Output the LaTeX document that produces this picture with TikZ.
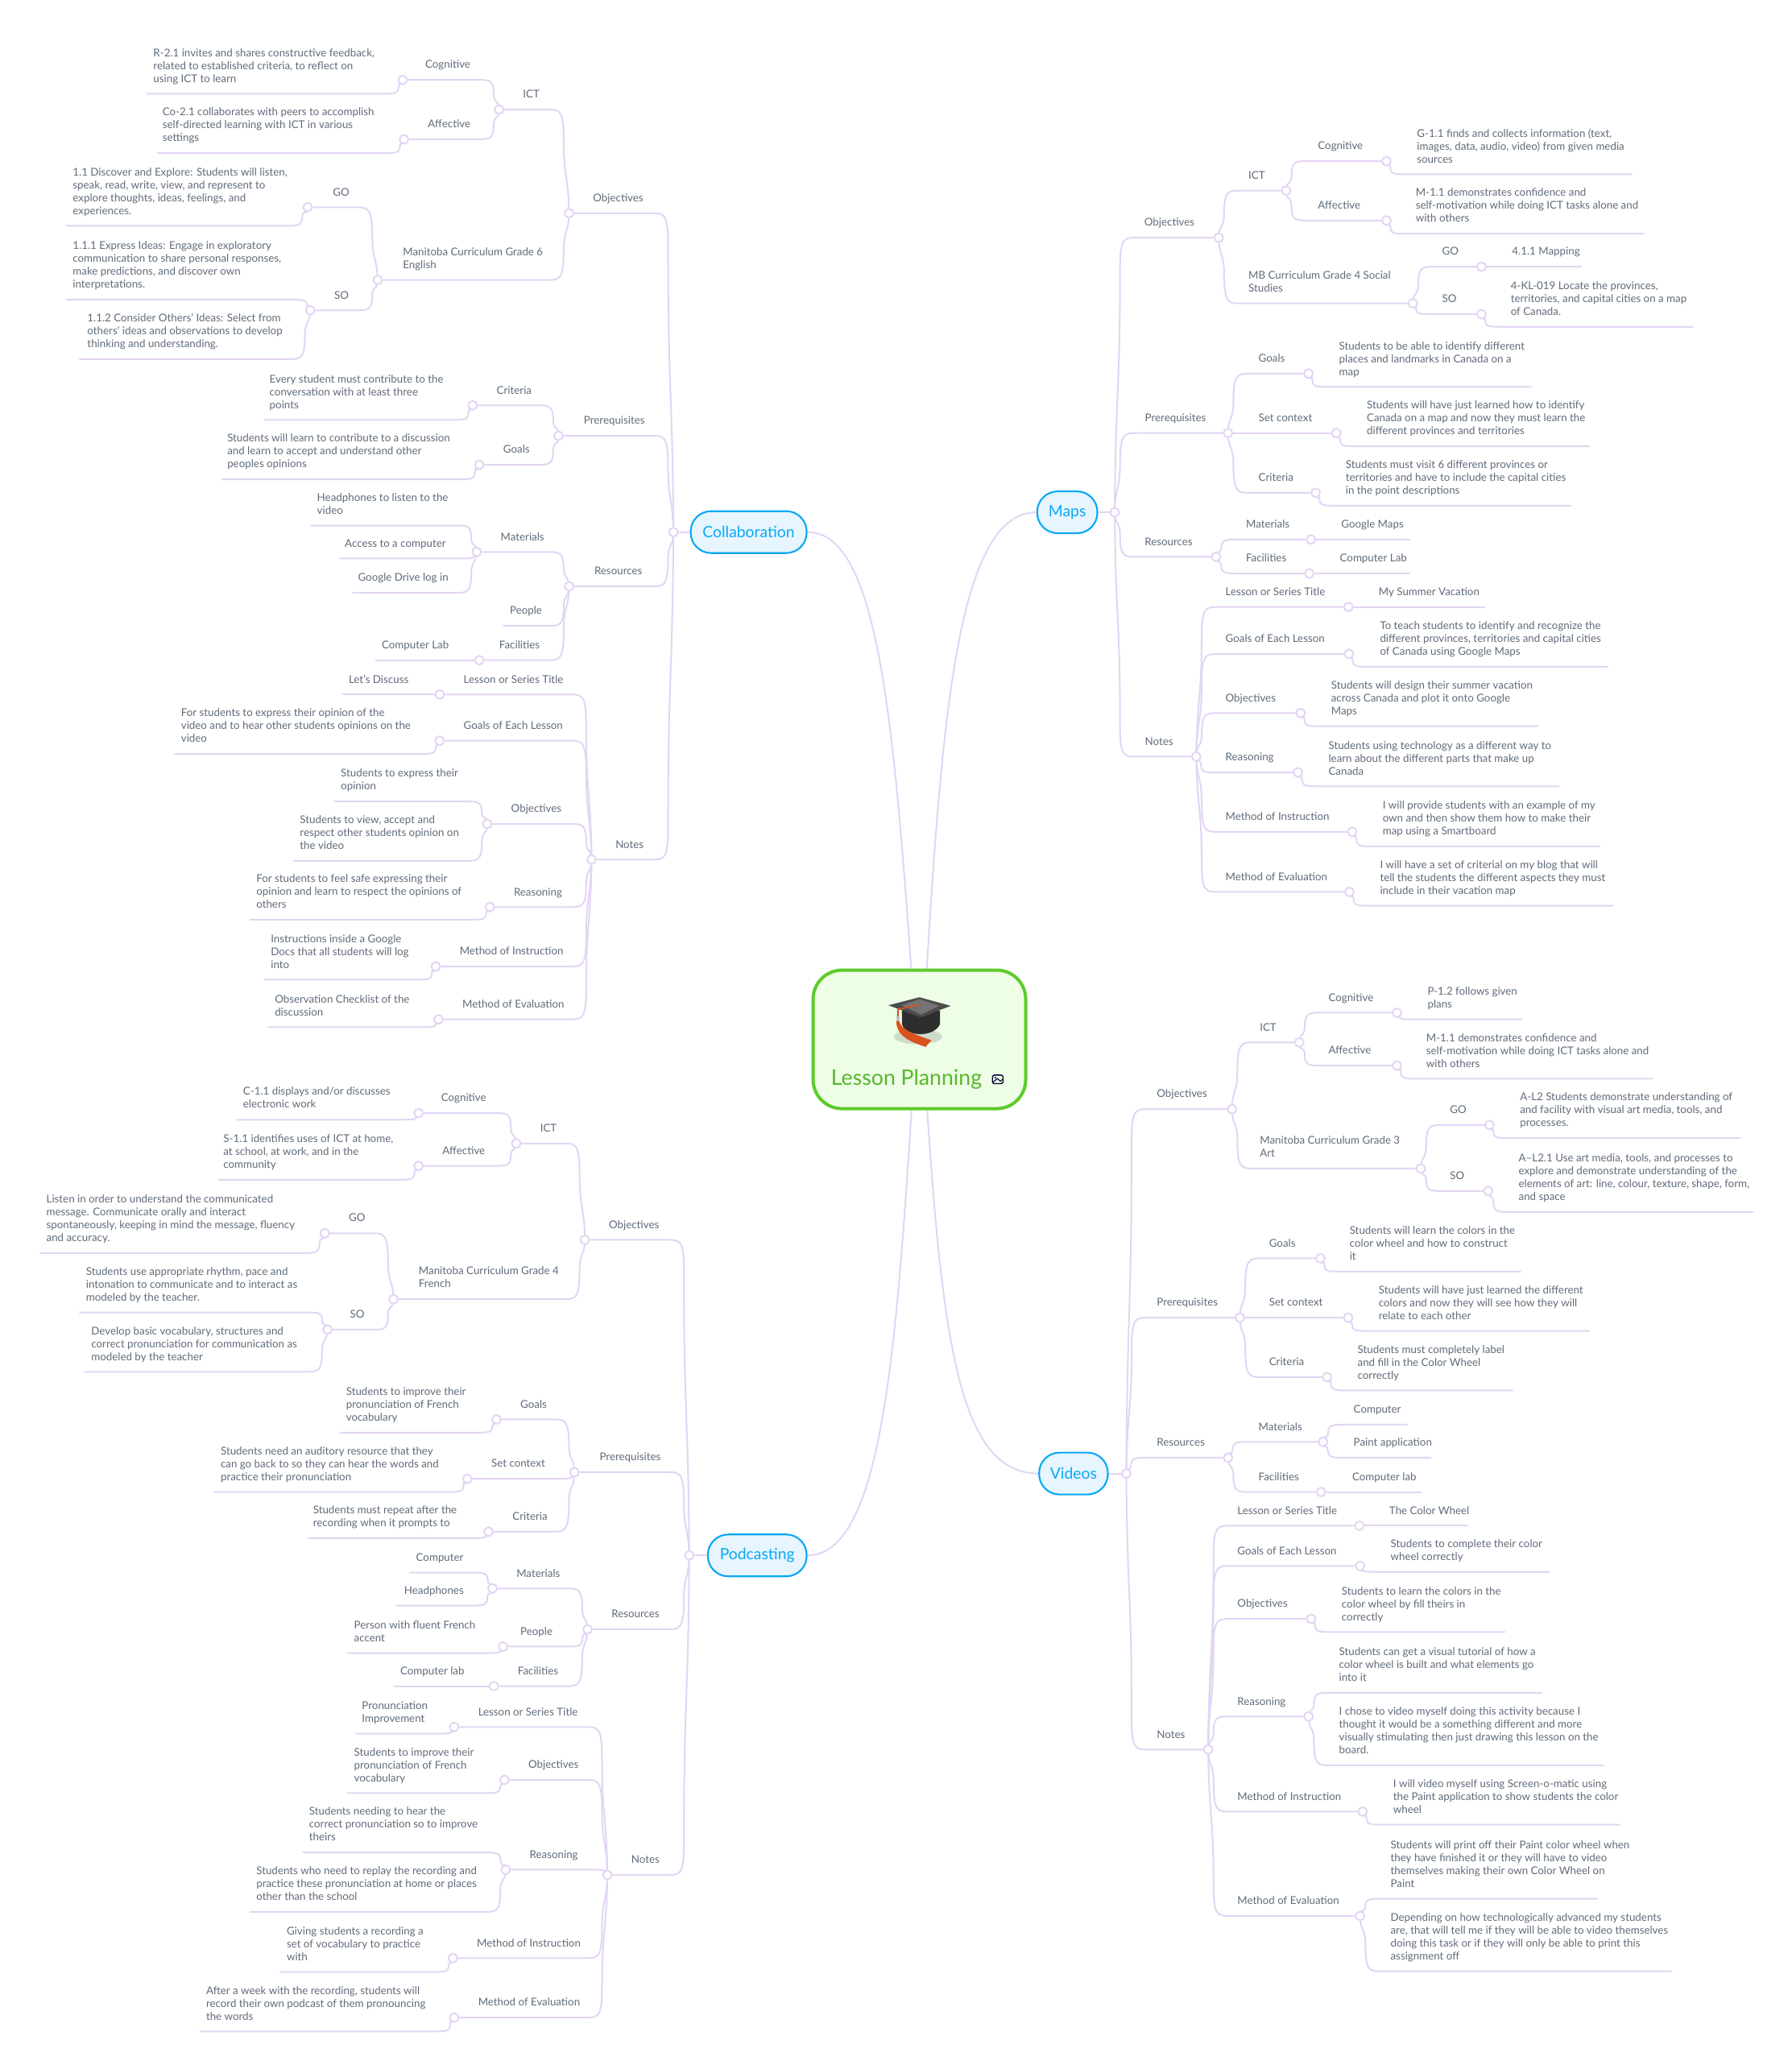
\documentclass[tikz,border=0pt]{standalone}
\usepackage{fontspec}
\setmainfont{Lato}
\usetikzlibrary{calc}
\pgfdeclarelayer{bg}\pgfdeclarelayer{paper}\pgfsetlayers{paper,bg,main}
\definecolor{linec}{HTML}{E3D5F4}
\definecolor{textc}{HTML}{5F6B7A}
\definecolor{bluec}{HTML}{0AA8F5}
\definecolor{bluef}{HTML}{E6F5FE}
\definecolor{greenc}{HTML}{5DCB2B}
\definecolor{greenf}{HTML}{EEFDE6}
\definecolor{greent}{HTML}{55B82B}
\definecolor{tassel}{HTML}{D9531E}
\tikzset{
 wire/.style={draw=linec,line width=1.5pt},
 knob/.style={circle,draw=linec,fill=white,line width=1.5pt,minimum size=8.25pt,inner sep=0pt},
 lab/.style={inner sep=0pt,anchor=south west,yshift=7.5pt,align=left,text=textc,font=\fontsize{10}{12}\selectfont},
 mainn/.style={draw=bluec,fill=bluef,line width=1.6pt,rounded corners=19pt,text=bluec,font=\fontsize{14.5}{16}\selectfont,inner sep=0pt},
 rootn/.style={draw=greenc,fill=greenf,line width=3pt,rounded corners=27pt,inner sep=0pt},
}
\newcommand\conn[3]{%
 \pgfpointanchor{#1}{center}\pgfgetlastxy\zxa\zya
 \pgfpointanchor{#2}{center}\pgfgetlastxy\zxb\zyb
 \pgfmathsetmacro\zdy{\zyb-\zya}
 \pgfmathsetmacro\zady{abs(\zdy)}
 \pgfmathsetmacro\zsg{\zdy/max(\zady,0.01)}
 \pgfmathsetmacro\zaa{#3*min(\zady*0.3,5)}
 \pgfmathsetmacro\zrr{min(\zady*0.5,28)}
 \pgfmathsetmacro\zsx{\zxa+\zaa}
 \pgfmathsetmacro\zsy{\zyb-\zsg*\zrr}
 \pgfmathsetmacro\zmy{(\zsy+\zya)/2}
 \pgfmathsetmacro\zpx{\zxa+0.2*\zaa}
 \pgfmathsetmacro\zqx{\zsx+#3*4}
 \pgfmathsetmacro\zex{\zxa+#3*20}
 \begin{pgfonlayer}{bg}
 \draw[wire] (#1) .. controls (\zpx pt,\zmy pt) and (\zsx pt,\zmy pt) .. (\zsx pt,\zsy pt)
   .. controls (\zsx pt,\zyb) and (\zqx pt,\zyb) .. (\zex pt,\zyb) -- (#2);
 \end{pgfonlayer}}
% name parent textx liney knobx text
\newcommand\RB[6]{\node[knob] (#1) at (#5,#4) {};\node[lab] (#1-t) at (#3,#4) {#6\rule[-3pt]{0pt}{3pt}};\conn{#2}{#1}{1}}
\newcommand\RL[6]{\coordinate (#1) at (#5,#4);\node[lab] (#1-t) at (#3,#4) {#6\rule[-3pt]{0pt}{3pt}};\conn{#2}{#1}{1}}
\newcommand\LB[6]{\node[knob] (#1) at (#5,#4) {};\node[lab] (#1-t) at (#3,#4) {#6\rule[-3pt]{0pt}{3pt}};\conn{#2}{#1}{-1}}
\newcommand\LL[6]{\coordinate (#1) at (#5,#4);\node[lab] (#1-t) at (#3,#4) {#6\rule[-3pt]{0pt}{3pt}};\conn{#2}{#1}{-1}}
\begin{document}
\begin{tikzpicture}[x=1.2296pt,y=-1.2296pt]
\useasboundingbox (0,0) rectangle (1357.1,1567);
\begin{pgfonlayer}{paper}\fill[white] (0,0) rectangle (1357.1,1567);\end{pgfonlayer}
\node[rootn,minimum width=198pt,minimum height=129pt] (root) at (696.3,787.2) {};
\node[inner sep=0pt,anchor=base west,text=greent,font=\fontsize{20}{22}\selectfont] (roott) at (629.3,822.2) {Lesson Planning};
% cap icon
\begin{scope}[shift={(579.4,701.4)},scale=0.2033]
 \fill[black!22!greenf,opacity=.6] (570,412) ellipse (90 and 28);
 \fill[black!82] (510,315) -- (510,365) .. controls (525,415) and (630,415) .. (652,365) -- (652,315) -- cycle;
 \fill[black!70] (460,295) -- (575,265) -- (692,297) -- (580,340) -- cycle;
 \fill[black!55] (510,295) -- (575,272) -- (650,297) -- (580,330) -- cycle;
 \draw[color=tassel,line width=1.3pt] (575,293) -- (495,310) -- (495,345);
 \fill[tassel] (489,352) -- (500,352) .. controls (503,385) and (560,405) .. (620,425) -- (598,450) .. controls (540,430) and (488,410) .. (489,352) -- cycle;
 \fill[gray!50] (488,335) rectangle (502,355);
 \draw[color=black!80!blue,line width=1pt,rounded corners=2pt] (847,555) rectangle (887,587);
 \fill[black!80!blue] (858,565) circle (4);
 \draw[color=black!80!blue,line width=.8pt] (847,583) -- (866,568) -- (876,578) -- (887,570);
\end{scope}
% ---- main topics
\node[mainn,minimum width=56pt,minimum height=39pt] (maps) at (808.3,388) {Maps};
\node[mainn,minimum width=64pt,minimum height=39pt] (videos) at (813,1116) {Videos};
\node[mainn,minimum width=108pt,minimum height=39pt] (collab) at (567,403) {Collaboration};
\node[mainn,minimum width=92pt,minimum height=39pt] (podc) at (573.5,1178) {Podcasting};
\begin{pgfonlayer}{bg}
\draw[wire] ([xshift=3pt]root.center) .. controls (712,560) and (722,388) .. (maps.west);
\draw[wire] ([xshift=-3pt]root.center) .. controls (678,560) and (668,403) .. (collab.east);
\draw[wire] ([xshift=3pt]root.center) .. controls (712,1000) and (722,1116) .. (videos.west);
\draw[wire] ([xshift=-3pt]root.center) .. controls (680,1000) and (672,1178) .. (podc.east);
\end{pgfonlayer}
\node[knob] (mk) at (844.2,388) {};
\node[knob] (vk) at (853,1116) {};
\node[knob] (ck) at (510,403) {};
\node[knob] (pk) at (522,1178) {};
\begin{pgfonlayer}{bg}
\draw[wire] (maps) -- (mk); \draw[wire] (videos) -- (vk); \draw[wire] (collab) -- (ck); \draw[wire] (podc) -- (pk);
\end{pgfonlayer}
% ===== MAPS
\RB{mO}{mk}{866.5}{180}{923}{Objectives}
\RB{mOI}{mO}{945.4}{144.4}{974}{ICT}
\RB{mOIc}{mOI}{998}{122}{1050}{Cognitive}
\RL{mOIcl}{mOIc}{1073}{132}{1236}{G-1.1 finds and collects information (text,\\images, data, audio, video) from given media\\sources}
\RB{mOIa}{mOI}{998}{167}{1050}{Affective}
\RL{mOIal}{mOIa}{1072}{177}{1245}{M-1.1 demonstrates confidence and\\self-motivation while doing ICT tasks alone and\\with others}
\RB{mOM}{mO}{945.4}{229.7}{1070}{MB Curriculum Grade 4 Social\\Studies}
\RB{mOMg}{mOM}{1092}{202}{1122}{GO}
\RL{mOMgl}{mOMg}{1145}{202}{1198}{4.1.1 Mapping}
\RB{mOMs}{mOM}{1092}{238}{1122}{SO}
\RL{mOMsl}{mOMs}{1144}{247.5}{1282}{4-KL-019 Locate the provinces,\\territories, and capital cities on a map\\of Canada.}
\RB{mP}{mk}{867}{328}{930}{Prerequisites}
\RB{mPg}{mP}{953}{283}{991}{Goals}
\RL{mPgl}{mPg}{1014}{293}{1160}{Students to be able to identify different\\places and landmarks in Canada on a\\map}
\RB{mPs}{mP}{953}{328}{1012}{Set context}
\RL{mPsl}{mPs}{1035}{338}{1204}{Students will have just learned how to identify\\Canada on a map and now they must learn the\\different provinces and territories}
\RB{mPc}{mP}{953}{373.2}{996.4}{Criteria}
\RL{mPcl}{mPc}{1019}{383}{1190}{Students must visit 6 different provinces or\\territories and have to include the capital cities\\in the point descriptions}
\RB{mR}{mk}{866.8}{421.7}{921}{Resources}
\RB{mRm}{mR}{943.5}{408.6}{992.9}{Materials}
\RL{mRml}{mRm}{1015.7}{408.6}{1068}{Google Maps}
\RB{mRf}{mR}{943.5}{434.3}{991.6}{Facilities}
\RL{mRfl}{mRf}{1014.6}{434.3}{1068}{Computer Lab}
\RB{mN}{mk}{867}{573}{906}{Notes}
\RB{mNa}{mN}{928}{459.7}{1021.2}{Lesson or Series Title}
\RL{mNal}{mNa}{1044}{459.7}{1125}{My Summer Vacation}
\RB{mNb}{mN}{928}{495.3}{1021.6}{Goals of Each Lesson}
\RL{mNbl}{mNb}{1045}{505}{1218}{To teach students to identify and recognize the\\different provinces, territories and capital cities\\of Canada using Google Maps}
\RB{mNc}{mN}{928}{540}{985}{Objectives}
\RL{mNcl}{mNc}{1008}{550}{1165}{Students will design their summer vacation\\across Canada and plot it onto Google\\Maps}
\RB{mNd}{mN}{928}{585}{983}{Reasoning}
\RL{mNdl}{mNd}{1006}{595.5}{1181}{Students using technology as a different way to\\learn about the different parts that make up\\Canada}
\RB{mNe}{mN}{928}{630}{1024}{Method of Instruction}
\RL{mNel}{mNe}{1047}{641}{1212}{I will provide students with an example of my\\own and then show them how to make their\\map using a Smartboard}
\RB{mNf}{mN}{928}{675.5}{1022}{Method of Evaluation}
\RL{mNfl}{mNf}{1045}{686}{1222}{I will have a set of criterial on my blog that will\\tell the students the different aspects they must\\include in their vacation map}
% ===== VIDEOS
\RB{vO}{vk}{876}{840}{933}{Objectives}
\RB{vOI}{vO}{954}{789.5}{984}{ICT}
\RB{vOIc}{vOI}{1006}{767}{1058}{Cognitive}
\RL{vOIcl}{vOIc}{1081}{772}{1153}{P-1.2 follows given\\plans}
\RB{vOIa}{vOI}{1006}{807}{1058}{Affective}
\RL{vOIal}{vOIa}{1080}{817}{1252}{M-1.1 demonstrates confidence and\\self-motivation while doing ICT tasks alone and\\with others}
\RB{vOM}{vO}{954}{885}{1076}{Manitoba Curriculum Grade 3\\Art}
\RB{vOMg}{vOM}{1098}{852}{1128}{GO}
\RL{vOMgl}{vOMg}{1151}{862}{1318}{A-L2 Students demonstrate understanding of\\and facility with visual art media, tools, and\\processes.}
\RB{vOMs}{vOM}{1098}{902}{1127}{SO}
\RL{vOMsl}{vOMs}{1150}{918}{1328}{A–L2.1 Use art media, tools, and processes to\\explore and demonstrate understanding of the\\elements of art: line, colour, texture, shape, form,\\and space}
\RB{vP}{vk}{876}{998}{939}{Prerequisites}
\RB{vPg}{vP}{961}{953}{1000}{Goals}
\RL{vPgl}{vPg}{1022}{963}{1152}{Students will learn the colors in the\\color wheel and how to construct\\it}
\RB{vPs}{vP}{961}{998}{1021}{Set context}
\RL{vPsl}{vPs}{1044}{1008}{1204}{Students will have just learned the different\\colors and now they will see how they will\\relate to each other}
\RB{vPc}{vP}{961}{1043}{1005}{Criteria}
\RL{vPcl}{vPc}{1028}{1053}{1146}{Students must completely label\\and fill in the Color Wheel\\correctly}
\RB{vR}{vk}{876}{1104}{930}{Resources}
\RB{vRm}{vR}{953}{1092}{1002}{Materials}
\RL{vRma}{vRm}{1025}{1079}{1066}{Computer}
\RL{vRmb}{vRm}{1025}{1104}{1084}{Paint application}
\RB{vRf}{vR}{953}{1130}{1000.5}{Facilities}
\RL{vRfl}{vRf}{1024}{1130}{1076.5}{Computer lab}
\RB{vN}{vk}{876}{1325}{915}{Notes}
\RB{vNa}{vN}{937}{1155.5}{1029.5}{Lesson or Series Title}
\RL{vNal}{vNa}{1052}{1155.5}{1112}{The Color Wheel}
\RB{vNb}{vN}{937}{1186}{1030}{Goals of Each Lesson}
\RL{vNbl}{vNb}{1053}{1190.5}{1174}{Students to complete their color\\wheel correctly}
\RB{vNc}{vN}{937}{1226}{993}{Objectives}
\RL{vNcl}{vNc}{1016}{1236}{1140}{Students to learn the colors in the\\color wheel by fill theirs in\\correctly}
\RB{vNd}{vN}{937}{1300}{991}{Reasoning}
\RL{vNda}{vNd}{1014}{1282}{1168}{Students can get a visual tutorial of how a\\color wheel is built and what elements go\\into it}
\RL{vNdb}{vNd}{1014}{1337}{1215}{I chose to video myself doing this activity because I\\thought it would be a something different and more\\visually stimulating then just drawing this lesson on the\\board.}
\RB{vNe}{vN}{937}{1372}{1032}{Method of Instruction}
\RL{vNel}{vNe}{1055}{1382}{1227}{I will video myself using Screen-o-matic using\\the Paint application to show students the color\\wheel}
\RB{vNf}{vN}{937}{1451}{1030}{Method of Evaluation}
\RL{vNfa}{vNf}{1053}{1438}{1210}{Students will print off their Paint color wheel when\\they have finished it or they will have to video\\themselves making their own Color Wheel on\\Paint}
\RL{vNfb}{vNf}{1053}{1493}{1266}{Depending on how technologically advanced my students\\are, that will tell me if they will be able to video themselves\\doing this task or if they will only be able to print this\\assignment off}
% ===== COLLABORATION
\LB{cO}{ck}{449}{161.5}{431}{Objectives}
\LB{cOI}{cO}{396}{83}{378}{ICT}
\LB{cOIc}{cOI}{322}{60.5}{305}{Cognitive}
\LL{cOIcl}{cOIc}{116}{71}{111}{R-2.1 invites and shares constructive feedback,\\related to established criteria, to reflect on\\using ICT to learn}
\LB{cOIa}{cOI}{324}{105.5}{306}{Affective}
\LL{cOIal}{cOIa}{123}{116}{119}{Co-2.1 collaborates with peers to accomplish\\self-directed learning with ICT in various\\settings}
\LB{cOM}{cO}{305}{212}{286}{Manitoba Curriculum Grade 6\\English}
\LB{cOMg}{cOM}{252}{157}{233}{GO}
\LL{cOMgl}{cOMg}{55}{171}{50}{1.1 Discover and Explore: Students will listen,\\speak, read, write, view, and represent to\\explore thoughts, ideas, feelings, and\\experiences.}
\LB{cOMs}{cOM}{253}{235}{235}{SO}
\LL{cOMsa}{cOMs}{55}{227}{50}{1.1.1 Express Ideas: Engage in exploratory\\communication to share personal responses,\\make predictions, and discover own\\interpretations.}
\LL{cOMsb}{cOMs}{66}{272}{60}{1.1.2 Consider Others' Ideas: Select from\\others' ideas and observations to develop\\thinking and understanding.}
\LB{cP}{ck}{442}{330}{423}{Prerequisites}
\LB{cPc}{cP}{376}{307}{358}{Criteria}
\LL{cPcl}{cPc}{204}{318}{200}{Every student must contribute to the\\conversation  with at least three\\points}
\LB{cPg}{cP}{381}{352}{363}{Goals}
\LL{cPgl}{cPg}{172}{363}{168}{Students will learn to contribute to a discussion\\and learn to accept and understand other\\peoples opinions}
\LB{cR}{ck}{450}{444}{431}{Resources}
\LB{cRm}{cR}{379}{418}{361}{Materials}
\LL{cRma}{cRm}{240}{398}{235}{Headphones to listen to the\\video}
\LL{cRmb}{cRm}{261}{423}{257}{Access to a computer}
\LL{cRmc}{cRm}{271}{449}{267}{Google Drive log in}
\LL{cRp}{cR}{386}{474}{381}{People}
\LB{cRf}{cR}{378}{500}{363}{Facilities}
\LL{cRfl}{cRf}{289}{500}{284}{Computer Lab}
\LB{cN}{ck}{466}{651}{448}{Notes}
\LB{cNa}{cN}{351}{526}{333}{Lesson or Series Title}
\LL{cNal}{cNa}{264}{526}{259}{Let's Discuss}
\LB{cNb}{cN}{351}{561}{333}{Goals of Each Lesson}
\LL{cNbl}{cNb}{137}{571}{132}{For students to express their opinion of the\\video and to hear other students opinions on the\\video}
\LB{cNc}{cN}{387}{624}{369}{Objectives}
\LL{cNca}{cNc}{258}{607}{253}{Students to express their\\opinion}
\LL{cNcb}{cNc}{227}{652}{222}{Students to view, accept and\\respect other students opinion on\\the video}
\LB{cNd}{cN}{389}{687}{371}{Reasoning}
\LL{cNdl}{cNd}{194}{696.5}{189}{For students to feel safe expressing their\\opinion and learn to respect the opinions of\\others}
\LB{cNe}{cN}{348}{732}{330}{Method of Instruction}
\LL{cNel}{cNe}{205}{742}{200}{Instructions inside a Google\\Docs that all students will log\\into}
\LB{cNf}{cN}{350}{772}{332}{Method of Evaluation}
\LL{cNfl}{cNf}{208}{778}{203}{Observation Checklist of the\\discussion}
% ===== PODCASTING
\LB{pO}{pk}{461}{939}{443}{Objectives}
\LB{pOI}{pO}{409}{866}{391}{ICT}
\LB{pOIc}{pOI}{334}{843}{317}{Cognitive}
\LL{pOIcl}{pOIc}{184}{848}{179}{C-1.1 displays and/or discusses\\electronic work}
\LB{pOIa}{pOI}{335}{883}{317}{Affective}
\LL{pOIal}{pOIa}{169}{893.5}{165}{S-1.1 identifies uses of ICT at home,\\at school, at work, and in the\\community}
\LB{pOM}{pO}{317}{984}{298}{Manitoba Curriculum Grade 4\\French}
\LB{pOMg}{pOM}{264}{934}{246}{GO}
\LL{pOMgl}{pOMg}{35}{949}{30}{Listen in order to understand the communicated\\message. Communicate orally and interact\\spontaneously, keeping in mind the message, fluency\\and accuracy.}
\LB{pOMs}{pOM}{265}{1007}{248}{SO}
\LL{pOMsa}{pOMs}{65}{994}{60}{Students use appropriate rhythm, pace and\\intonation to communicate and to interact as\\modeled by the teacher.}
\LL{pOMsb}{pOMs}{69}{1039}{64}{Develop basic vocabulary, structures and\\correct pronunciation for communication as\\modeled by the teacher}
\LB{pP}{pk}{454}{1115}{435}{Prerequisites}
\LB{pPg}{pP}{394}{1075}{376}{Goals}
\LL{pPgl}{pPg}{262}{1085}{257}{Students to improve their\\pronunciation of French\\vocabulary}
\LB{pPs}{pP}{372}{1120}{354}{Set context}
\LL{pPsl}{pPs}{167}{1130}{162}{Students need an auditory resource that they\\can go back to so they can hear the words and\\practice their pronunciation}
\LB{pPc}{pP}{388}{1160}{370}{Criteria}
\LL{pPcl}{pPc}{237}{1165}{233}{Students must repeat after the\\recording when it prompts to}
\LB{pR}{pk}{463}{1234}{445}{Resources}
\LB{pRm}{pR}{391}{1203}{373}{Materials}
\LL{pRma}{pRm}{315}{1191}{310}{Computer}
\LL{pRmb}{pRm}{306}{1216}{300}{Headphones}
\LB{pRp}{pR}{394}{1247}{381}{People}
\LL{pRpl}{pRp}{268}{1252}{263}{Person with fluent French\\accent}
\LB{pRf}{pR}{392}{1277}{374}{Facilities}
\LL{pRfl}{pRf}{303}{1277}{298}{Computer lab}
\LB{pN}{pk}{478}{1420}{460}{Notes}
\LB{pNa}{pN}{362}{1308}{344}{Lesson or Series Title}
\LL{pNal}{pNa}{274}{1313}{269}{Pronunciation\\Improvement}
\LB{pNb}{pN}{400}{1348}{382}{Objectives}
\LL{pNbl}{pNb}{268}{1358}{263}{Students to improve their\\pronunciation of French\\vocabulary}
\LB{pNc}{pN}{401}{1416}{383}{Reasoning}
\LL{pNca}{pNc}{234}{1403}{229}{Students needing to hear the\\correct pronunciation so to improve\\theirs}
\LL{pNcb}{pNc}{194}{1448}{189}{Students who need to replay the recording and\\practice these pronunciation at home or places\\other than the school}
\LB{pNd}{pN}{361}{1483}{343}{Method of Instruction}
\LL{pNdl}{pNd}{217}{1493.5}{212}{Giving students a recording a\\set of vocabulary to practice\\with}
\LB{pNe}{pN}{362}{1528}{344}{Method of Evaluation}
\LL{pNel}{pNe}{156}{1538.5}{151}{After a week with the recording, students will\\record their own podcast of them pronouncing\\the words}
\end{tikzpicture}
\end{document}
